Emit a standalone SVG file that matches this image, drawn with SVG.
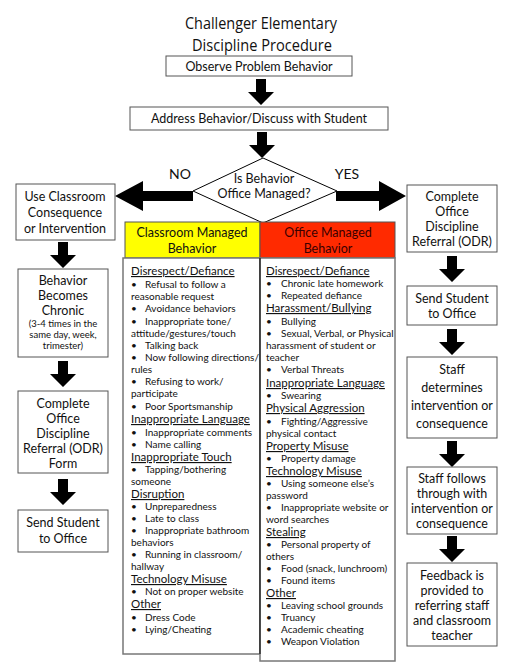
<svg xmlns="http://www.w3.org/2000/svg" xmlns:xlink="http://www.w3.org/1999/xlink" width="512" height="663" viewBox="0 0 512 663">
<defs>
<style>
.box{fill:#fff;stroke:#555;stroke-width:1}
.t{font-family:Lato,"Open Sans","Liberation Sans",sans-serif;font-size:12.5px;fill:#111;text-anchor:middle}
.s{font-size:9.5px}
.title{font-family:"Open Sans","DejaVu Sans",sans-serif;font-size:16.5px;fill:#111;text-anchor:middle}
.h{font-family:Lato,"Open Sans","Liberation Sans",sans-serif;font-size:11.5px;fill:#111;text-decoration:underline}
.b{font-family:Lato,"Open Sans","Liberation Sans",sans-serif;font-size:10px;fill:#111}
.arrow{fill:#000}
</style>
<path id="down" d="M-5,0 H5 V13 H13 L0,26 L-13,13 H-5 Z"/>
</defs>
<g id="title">
<text class="title" x="261" y="29" textLength="152" lengthAdjust="spacingAndGlyphs">Challenger Elementary</text>
<text class="title" x="262" y="51" textLength="140" lengthAdjust="spacingAndGlyphs">Discipline Procedure</text>
</g>
<g id="connectors" class="arrow">
<use xlink:href="#down" x="261" y="79"/>
<use xlink:href="#down" x="262" y="132"/>
<polygon points="115,196 143,181 143,191 193,191 193,201 143,201 143,211"/>
<polygon points="336,191 379,191 379,181 406,196 379,211 379,201 336,201"/>
<use xlink:href="#down" x="63" y="242"/>
<use xlink:href="#down" x="63" y="361"/>
<use xlink:href="#down" x="63" y="479"/>
<use xlink:href="#down" x="452" y="256"/>
<use xlink:href="#down" x="452" y="329"/>
<use xlink:href="#down" x="452" y="441"/>
<use xlink:href="#down" x="452" y="536"/>
</g>
<g id="labels">
<text class="t" x="180" y="179" style="font-size:14px">NO</text>
<text class="t" x="347" y="179" style="font-size:14px">YES</text>
</g>
<g id="observe">
<rect class="box" x="166" y="56" width="186" height="20"/>
<text class="t" x="259" y="70.5">Observe Problem Behavior</text>
</g>
<g id="address">
<rect class="box" x="130" y="107" width="258" height="23"/>
<text class="t" x="259" y="123">Address Behavior/Discuss with Student</text>
</g>
<g id="decision">
<polygon points="263,158 337,191 263,223 193,191" fill="#fff" stroke="#000" stroke-width="1"/>
<text class="t" x="264" y="183">Is Behavior</text>
<text class="t" x="264" y="198">Office Managed?</text>
</g>
<g id="useClassroom">
<rect class="box" x="16" y="184" width="99" height="56"/>
<text class="t" x="65" y="201">Use Classroom</text>
<text class="t" x="65" y="217">Consequence</text>
<text class="t" x="65" y="233">or Intervention</text>
</g>
<g id="chronic">
<rect class="box" x="18" y="269" width="90" height="88"/>
<text class="t" x="63" y="285">Behavior</text>
<text class="t" x="63" y="300">Becomes</text>
<text class="t" x="63" y="315">Chronic</text>
<text class="t s" x="63" y="327">(3-4 times in the</text>
<text class="t s" x="63" y="338">same day, week,</text>
<text class="t s" x="63" y="349">trimester)</text>
</g>
<g id="odrLeft">
<rect class="box" x="18" y="391" width="90" height="82"/>
<text class="t" x="63" y="408">Complete</text>
<text class="t" x="63" y="423">Office</text>
<text class="t" x="63" y="438">Discipline</text>
<text class="t" x="63" y="453">Referral (ODR)</text>
<text class="t" x="63" y="468">Form</text>
</g>
<g id="sendLeft">
<rect class="box" x="18" y="510" width="90" height="42"/>
<text class="t" x="63" y="527">Send Student</text>
<text class="t" x="63" y="543">to Office</text>
</g>
<g id="odrRight">
<rect class="box" x="407" y="185" width="90" height="67"/>
<text class="t" x="452" y="201">Complete</text>
<text class="t" x="452" y="216">Office</text>
<text class="t" x="452" y="231">Discipline</text>
<text class="t" x="452" y="246">Referral (ODR)</text>
</g>
<g id="sendRight">
<rect class="box" x="407" y="286" width="90" height="39"/>
<text class="t" x="452" y="303">Send Student</text>
<text class="t" x="452" y="318">to Office</text>
</g>
<g id="staffDetermines">
<rect class="box" x="407" y="357" width="90" height="81"/>
<text class="t" x="452" y="374">Staff</text>
<text class="t" x="452" y="392">determines</text>
<text class="t" x="452" y="410">intervention or</text>
<text class="t" x="452" y="428">consequence</text>
</g>
<g id="staffFollows">
<rect class="box" x="407" y="467" width="90" height="67"/>
<text class="t" x="452" y="483">Staff follows</text>
<text class="t" x="452" y="498">through with</text>
<text class="t" x="452" y="513">intervention or</text>
<text class="t" x="452" y="528">consequence</text>
</g>
<g id="feedback">
<rect class="box" x="407" y="563" width="90" height="83"/>
<text class="t" x="452" y="580">Feedback is</text>
<text class="t" x="452" y="595">provided to</text>
<text class="t" x="452" y="610">referring staff</text>
<text class="t" x="452" y="625">and classroom</text>
<text class="t" x="452" y="640">teacher</text>
</g>
<g id="classroomManaged">
<rect x="125" y="222" width="135" height="36" fill="#FFFF00" stroke="#555" stroke-width="1"/>
<text class="t" x="192" y="237">Classroom Managed</text>
<text class="t" x="192" y="253">Behavior</text>
<rect x="123" y="258" width="137" height="396" fill="#fff" stroke="#777" stroke-width="1.5"/>
<text class="h" x="131" y="275">Disrespect/Defiance</text>
<text class="b" x="131" y="288">•<tspan x="145">Refusal to follow a</tspan></text>
<text class="b" x="131" y="300">reasonable request</text>
<text class="b" x="131" y="312">•<tspan x="145">Avoidance behaviors</tspan></text>
<text class="b" x="131" y="325">•<tspan x="145">Inappropriate tone/</tspan></text>
<text class="b" x="131" y="337">attitude/gestures/touch</text>
<text class="b" x="131" y="349">•<tspan x="145">Talking back</tspan></text>
<text class="b" x="131" y="361">•<tspan x="145">Now following directions/</tspan></text>
<text class="b" x="131" y="373">rules</text>
<text class="b" x="131" y="385">•<tspan x="145">Refusing to work/</tspan></text>
<text class="b" x="131" y="397">participate</text>
<text class="b" x="131" y="410">•<tspan x="145">Poor Sportsmanship</tspan></text>
<text class="h" x="131" y="423">Inappropriate Language</text>
<text class="b" x="131" y="436">•<tspan x="145">Inappropriate comments</tspan></text>
<text class="b" x="131" y="448">•<tspan x="145">Name calling</tspan></text>
<text class="h" x="131" y="461">Inappropriate Touch</text>
<text class="b" x="131" y="473">•<tspan x="145">Tapping/bothering</tspan></text>
<text class="b" x="131" y="485">someone</text>
<text class="h" x="131" y="498">Disruption</text>
<text class="b" x="131" y="510">•<tspan x="145">Unpreparedness</tspan></text>
<text class="b" x="131" y="522">•<tspan x="145">Late to class</tspan></text>
<text class="b" x="131" y="534">•<tspan x="145">Inappropriate bathroom</tspan></text>
<text class="b" x="131" y="546">behaviors</text>
<text class="b" x="131" y="558">•<tspan x="145">Running in classroom/</tspan></text>
<text class="b" x="131" y="570">hallway</text>
<text class="h" x="131" y="583">Technology Misuse</text>
<text class="b" x="131" y="595">•<tspan x="145">Not on proper website</tspan></text>
<text class="h" x="131" y="608">Other</text>
<text class="b" x="131" y="621">•<tspan x="145">Dress Code</tspan></text>
<text class="b" x="131" y="633">•<tspan x="145">Lying/Cheating</tspan></text>
</g>
<g id="officeManaged">
<rect x="260" y="222" width="135" height="36" fill="#FF2A00" stroke="#555" stroke-width="1"/>
<text class="t" x="328" y="237" style="fill:#3a0000">Office Managed</text>
<text class="t" x="328" y="253" style="fill:#3a0000">Behavior</text>
<rect x="260" y="258" width="135" height="403" fill="#fff" stroke="#777" stroke-width="1.5"/>
<line x1="260" y1="258" x2="260" y2="654" stroke="#000" stroke-width="1"/>
<text class="h" x="266" y="275">Disrespect/Defiance</text>
<text class="b" x="266" y="287">•<tspan x="281">Chronic late homework</tspan></text>
<text class="b" x="266" y="299">•<tspan x="281">Repeated defiance</tspan></text>
<text class="h" x="266" y="312">Harassment/Bullying</text>
<text class="b" x="266" y="325">•<tspan x="281">Bullying</tspan></text>
<text class="b" x="266" y="337">•<tspan x="281">Sexual, Verbal, or Physical</tspan></text>
<text class="b" x="266" y="349">harassment of student or</text>
<text class="b" x="266" y="361">teacher</text>
<text class="b" x="266" y="373">•<tspan x="281">Verbal Threats</tspan></text>
<text class="h" x="266" y="387">Inappropriate Language</text>
<text class="b" x="266" y="399">•<tspan x="281">Swearing</tspan></text>
<text class="h" x="266" y="412">Physical Aggression</text>
<text class="b" x="266" y="425">•<tspan x="281">Fighting/Aggressive</tspan></text>
<text class="b" x="266" y="437">physical contact</text>
<text class="h" x="266" y="450">Property Misuse</text>
<text class="b" x="266" y="462">•<tspan x="281">Property damage</tspan></text>
<text class="h" x="266" y="475">Technology Misuse</text>
<text class="b" x="266" y="487">•<tspan x="281">Using someone else’s</tspan></text>
<text class="b" x="266" y="499">password</text>
<text class="b" x="266" y="511">•<tspan x="281">Inappropriate website or</tspan></text>
<text class="b" x="266" y="523">word searches</text>
<text class="h" x="266" y="536">Stealing</text>
<text class="b" x="266" y="548">•<tspan x="281">Personal property of</tspan></text>
<text class="b" x="266" y="560">others</text>
<text class="b" x="266" y="572">•<tspan x="281">Food (snack, lunchroom)</tspan></text>
<text class="b" x="266" y="584">•<tspan x="281">Found items</tspan></text>
<text class="h" x="266" y="597">Other</text>
<text class="b" x="266" y="609">•<tspan x="281">Leaving school grounds</tspan></text>
<text class="b" x="266" y="621">•<tspan x="281">Truancy</tspan></text>
<text class="b" x="266" y="633">•<tspan x="281">Academic cheating</tspan></text>
<text class="b" x="266" y="645">•<tspan x="281">Weapon Violation</tspan></text>
</g>
</svg>
